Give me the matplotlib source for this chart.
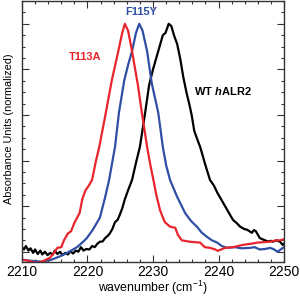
import matplotlib
matplotlib.use("Agg")
import matplotlib.pyplot as plt
from matplotlib.ticker import MultipleLocator

# T113A (red)
red_x = [2210.0, 2211.0, 2212.3, 2213.3, 2214.3, 2215.0, 2215.4, 2216.0, 2216.4, 2217.0,
         2217.5, 2218.0, 2218.8, 2219.2, 2219.7, 2220.2, 2220.7, 2221.3, 2221.8, 2222.8,
         2223.7, 2224.7, 2225.3, 2225.7, 2226.2, 2226.8, 2227.7, 2228.3, 2229.1, 2229.6,
         2230.1, 2230.5, 2231.1, 2231.8, 2232.6, 2233.4, 2233.8, 2234.4, 2235.6, 2237.2,
         2237.9, 2238.7, 2239.5, 2239.9, 2241.0, 2242.2, 2243.7, 2245.0, 2245.9, 2247.9,
         2248.8, 2249.4, 2250.0]
red_y = [-0.035, -0.04, -0.05, -0.04, -0.026, 0.0, 0.017, 0.02, 0.05, 0.08,
         0.09, 0.127, 0.17, 0.23, 0.27, 0.29, 0.315, 0.40, 0.46, 0.61,
         0.75, 0.88, 0.96, 1.0, 0.97, 0.88, 0.73, 0.61, 0.46, 0.38,
         0.31, 0.25, 0.18, 0.13, 0.11, 0.105, 0.074, 0.05, 0.044, 0.04,
         0.02, 0.017, 0.01, 0.004, 0.017, 0.02, 0.03, 0.035, 0.04, 0.044,
         0.05, 0.05, 0.055]

# F115Y (blue)
blue_x = [2210.0, 2211.5, 2213.0, 2214.5, 2215.8, 2216.9, 2218.4, 2219.2, 2219.9, 2220.8,
          2221.9, 2222.7, 2223.3, 2224.2, 2224.8, 2225.6, 2226.2, 2226.8, 2227.4, 2227.9,
          2228.4, 2229.1, 2229.8, 2230.8, 2231.5, 2232.0, 2232.6, 2233.7, 2234.9, 2235.8,
          2236.7, 2237.4, 2238.2, 2239.0, 2239.8, 2240.5, 2241.3, 2242.5, 2243.5, 2244.8,
          2245.5, 2246.3, 2247.1, 2247.9, 2248.5, 2249.0, 2249.5, 2250.0]
blue_y = [-0.035, -0.04, -0.044, -0.035, -0.02, -0.005, 0.02, 0.04, 0.06, 0.096,
          0.15, 0.24, 0.315, 0.46, 0.61, 0.75, 0.82, 0.88, 0.96, 1.0,
          0.97, 0.88, 0.74, 0.61, 0.46, 0.38, 0.315, 0.24, 0.17, 0.135,
          0.11, 0.085, 0.066, 0.05, 0.04, 0.025, 0.017, 0.02, 0.015, 0.017,
          0.02, 0.01, 0.012, 0.017, 0.01, 0.0, 0.01, 0.02]

# WT hALR2 (black)
black_x = [2210.0, 2210.3, 2210.6, 2211.0, 2211.3, 2211.7, 2212.0, 2212.4, 2212.8, 2213.1,
           2213.5, 2213.9, 2214.3, 2214.7, 2215.0, 2215.4, 2215.8, 2216.2, 2216.6, 2217.0,
           2217.4, 2217.8, 2218.2, 2218.6, 2219.0, 2219.4, 2219.8, 2220.3, 2220.7, 2221.1,
           2221.5, 2221.9, 2222.3, 2222.7, 2223.1, 2223.4, 2223.8, 2224.2, 2224.6, 2224.9,
           2225.3, 2225.7, 2226.2, 2226.8, 2227.4, 2228.0, 2228.8, 2229.4, 2230.0, 2230.8,
           2231.5, 2231.9, 2232.4, 2232.8, 2233.2, 2233.7, 2234.2, 2234.6, 2235.1, 2235.6,
           2235.9, 2236.3, 2236.8, 2237.2, 2238.0, 2238.7, 2239.3, 2239.8, 2240.4, 2241.0,
           2241.6, 2242.2, 2242.8, 2243.3, 2243.9, 2244.4, 2245.1, 2245.4, 2245.7, 2246.0,
           2246.3, 2246.7, 2247.1, 2247.6, 2248.0, 2248.3, 2248.8, 2249.4, 2249.8, 2250.0]
black_y = [0.02, 0.01, 0.025, 0.005, 0.015, -0.005, 0.01, -0.01, 0.005, -0.012,
           0.0, -0.015, -0.005, -0.013, 0.005, -0.01, 0.0, -0.015, -0.005, -0.012,
           0.002, -0.008, 0.005, 0.0, 0.02, 0.005, 0.012, 0.01, 0.025, 0.02,
           0.035, 0.044, 0.045, 0.06, 0.07, 0.08, 0.1, 0.13, 0.14, 0.16,
           0.19, 0.23, 0.27, 0.315, 0.39, 0.46, 0.61, 0.73, 0.80, 0.88,
           0.95, 0.96, 1.0, 0.99, 0.95, 0.91, 0.84, 0.77, 0.70, 0.64,
           0.60, 0.53, 0.49, 0.46, 0.38, 0.315, 0.29, 0.26, 0.23, 0.20,
           0.17, 0.14, 0.125, 0.11, 0.10, 0.096, 0.083, 0.095, 0.09, 0.075,
           0.06, 0.055, 0.05, 0.045, 0.048, 0.044, 0.05, 0.044, 0.03, 0.035]

red = "#e8252d"
blue = "#2f4fa6"

plt.rcParams.update({
    "font.family": "Liberation Sans",
    "mathtext.fontset": "custom",
    "mathtext.rm": "Liberation Sans",
    "mathtext.it": "Liberation Sans:italic:bold",
    "mathtext.bf": "Liberation Sans:bold",
})

fig = plt.figure(figsize=(3.0, 2.96), dpi=100)
ax = fig.add_axes([0.0733, 0.1149, 0.8734, 0.8817])

ax.plot(black_x, black_y, color="black", lw=1.6)
ax.plot(blue_x, blue_y, color=blue, lw=1.6)
ax.plot(red_x, red_y, color=red, lw=1.6)

ax.text(2219.6, 0.853, "T113A", color=red, fontsize=8, fontweight="bold", ha="center", va="center")
ax.text(2228.2, 1.05, "F115Y", color=blue, fontsize=8, fontweight="bold", ha="center", va="center")
ax.text(2240.7, 0.707, r"WT $\mathit{h}$ALR2", color="black", fontsize=8, fontweight="bold",
        ha="center", va="center")

ax.set_xlim(2210, 2250)
ax.set_ylim(-0.045, 1.1)
ax.xaxis.set_major_locator(MultipleLocator(10))
ax.xaxis.set_minor_locator(MultipleLocator(2))
ax.yaxis.set_major_locator(MultipleLocator(0.2))
ax.yaxis.set_minor_locator(MultipleLocator(0.05))
ax.tick_params(which="both", direction="in", top=True, right=True, width=0.8, color="#333333")
ax.tick_params(which="major", length=5, labelsize=10, pad=2)
ax.tick_params(which="minor", length=2.5)
ax.set_yticklabels([])
for s in ax.spines.values():
    s.set_linewidth(1.0)
    s.set_color("#333333")

ax.set_xlabel("wavenumber (cm$^{-1}$)", fontsize=8.8)
ax.xaxis.set_label_coords(0.5, -0.066)
ax.set_ylabel("Absorbance Units (normalized)", fontsize=7.8)
ax.yaxis.set_label_coords(-0.03, 0.51)

fig.savefig("out.png", dpi=100)
